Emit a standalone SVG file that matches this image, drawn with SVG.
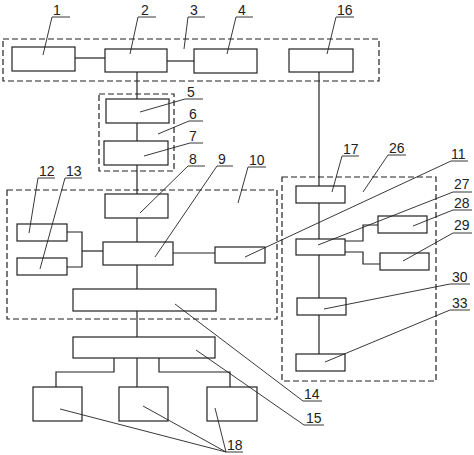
<svg xmlns="http://www.w3.org/2000/svg" width="474" height="455" viewBox="0 0 474 455">
<style>
.bg{fill:#fff}
.box{fill:#fff;stroke:#222;stroke-width:1.2}
.grp{fill:none;stroke:#222;stroke-width:1.2;stroke-dasharray:6 3}
.ln{fill:none;stroke:#222;stroke-width:1.2}
.ld{fill:none;stroke:#222;stroke-width:0.9}
.t{font-family:"Liberation Sans",Arial,sans-serif;font-size:14px;fill:#222}
</style>
<rect class="bg" x="0" y="0" width="474" height="455"/>
<g id="groups">
<rect id="g3" class="grp" x="3" y="39" width="376" height="42"/>
<rect id="g6" class="grp" x="99" y="94" width="75" height="77"/>
<rect id="g10" class="grp" x="7" y="190" width="270" height="129"/>
<rect id="g26" class="grp" x="282" y="177" width="154" height="204"/>
</g>
<g id="connectors">
<line class="ln" x1="75" y1="58" x2="105" y2="58"/>
<line class="ln" x1="167" y1="61" x2="194" y2="61"/>
<line class="ln" x1="137" y1="72" x2="137" y2="99"/>
<line class="ln" x1="137" y1="123" x2="137" y2="141"/>
<line class="ln" x1="137" y1="165" x2="137" y2="194"/>
<line class="ln" x1="137" y1="218" x2="137" y2="242"/>
<line class="ln" x1="137" y1="265" x2="137" y2="289"/>
<line class="ln" x1="137" y1="311" x2="137" y2="337"/>
<line class="ln" x1="137" y1="358" x2="137" y2="387"/>
<polyline class="ln" points="114,358 114,372 56,372 56,387"/>
<polyline class="ln" points="159,358 159,372 230,372 230,387"/>
<polyline class="ln" points="67,232 82,232 82,267 67,267"/>
<line class="ln" x1="82" y1="251" x2="103" y2="251"/>
<line class="ln" x1="173" y1="253" x2="215" y2="253"/>
<line class="ln" x1="319" y1="72" x2="319" y2="354"/>
<polyline class="ln" points="345,241 363,241 363,225 378,225"/>
<polyline class="ln" points="345,252 363,252 363,264 380,264"/>
</g>
<g id="n1"><rect class="box" x="12" y="47" width="63" height="24"/></g>
<g id="n2"><rect class="box" x="105" y="49" width="62" height="23"/></g>
<g id="n4"><rect class="box" x="194" y="49" width="63" height="24"/></g>
<g id="n16"><rect class="box" x="289" y="49" width="64" height="23"/></g>
<g id="n5"><rect class="box" x="106" y="99" width="63" height="24"/></g>
<g id="n7"><rect class="box" x="104" y="141" width="64" height="24"/></g>
<g id="n8"><rect class="box" x="105" y="194" width="63" height="24"/></g>
<g id="n9"><rect class="box" x="103" y="242" width="70" height="23"/></g>
<g id="n11"><rect class="box" x="215" y="247" width="50" height="16"/></g>
<g id="n12"><rect class="box" x="17" y="224" width="50" height="17"/></g>
<g id="n13"><rect class="box" x="17" y="258" width="50" height="17"/></g>
<g id="n14"><rect class="box" x="73" y="289" width="143" height="22"/></g>
<g id="n15"><rect class="box" x="73" y="337" width="142" height="21"/></g>
<g id="n18a"><rect class="box" x="33" y="387" width="49" height="34"/></g>
<g id="n18b"><rect class="box" x="119" y="387" width="49" height="34"/></g>
<g id="n18c"><rect class="box" x="207" y="387" width="50" height="34"/></g>
<g id="n17"><rect class="box" x="296" y="186" width="49" height="17"/></g>
<g id="n27"><rect class="box" x="296" y="239" width="49" height="16"/></g>
<g id="n28"><rect class="box" x="378" y="216" width="49" height="17"/></g>
<g id="n29"><rect class="box" x="380" y="253" width="49" height="17"/></g>
<g id="n30"><rect class="box" x="297" y="298" width="49" height="17"/></g>
<g id="n33"><rect class="box" x="296" y="354" width="49" height="17"/></g>
<g id="labels">
<polyline class="ld" points="43,55 52,17 70,17"/><text class="t" x="53" y="15">1</text>
<polyline class="ld" points="130,54 138,17 156,17"/><text class="t" x="141" y="15">2</text>
<polyline class="ld" points="184,49 188,17 205,17"/><text class="t" x="190" y="15">3</text>
<polyline class="ld" points="227,54 236,17 253,17"/><text class="t" x="238" y="15">4</text>
<polyline class="ld" points="327,54 336,17 354,17"/><text class="t" x="337" y="15">16</text>
<polyline class="ld" points="140,112 185,99 203,99"/><text class="t" x="187" y="97">5</text>
<polyline class="ld" points="158,134 189,121 203,121"/><text class="t" x="189" y="119">6</text>
<polyline class="ld" points="144,156 190,143 203,143"/><text class="t" x="189" y="141">7</text>
<polyline class="ld" points="140,213 188,166 205,166"/><text class="t" x="189" y="164">8</text>
<polyline class="ld" points="155,257 217,166 233,166"/><text class="t" x="218" y="164">9</text>
<polyline class="ld" points="238,203 248,167 266,167"/><text class="t" x="249" y="165">10</text>
<polyline class="ld" points="245,257 451,161 468,161"/><text class="t" x="451" y="159">11</text>
<polyline class="ld" points="29,233 38,178 55,178"/><text class="t" x="39" y="176">12</text>
<polyline class="ld" points="40,269 65,178 82,178"/><text class="t" x="66" y="176">13</text>
<polyline class="ld" points="175,304 303,401 322,401"/><text class="t" x="304" y="399">14</text>
<polyline class="ld" points="196,350 304,425 324,425"/><text class="t" x="306" y="423">15</text>
<polyline class="ld" points="60,409 226,452 243,452"/>
<line class="ld" x1="143" y1="406" x2="226" y2="452"/>
<line class="ld" x1="215" y1="408" x2="226" y2="452"/>
<text class="t" x="227" y="450">18</text>
<polyline class="ld" points="332,192 342,156 359,156"/><text class="t" x="343" y="154">17</text>
<polyline class="ld" points="363,192 388,155 406,155"/><text class="t" x="389" y="153">26</text>
<polyline class="ld" points="318,245 453,192 472,192"/><text class="t" x="454" y="189">27</text>
<polyline class="ld" points="413,226 453,210 472,210"/><text class="t" x="454" y="208">28</text>
<polyline class="ld" points="403,261 453,233 472,233"/><text class="t" x="454" y="230">29</text>
<polyline class="ld" points="324,309 450,284 470,284"/><text class="t" x="452" y="282">30</text>
<polyline class="ld" points="325,362 450,310 470,310"/><text class="t" x="452" y="308">33</text>
</g>
</svg>
